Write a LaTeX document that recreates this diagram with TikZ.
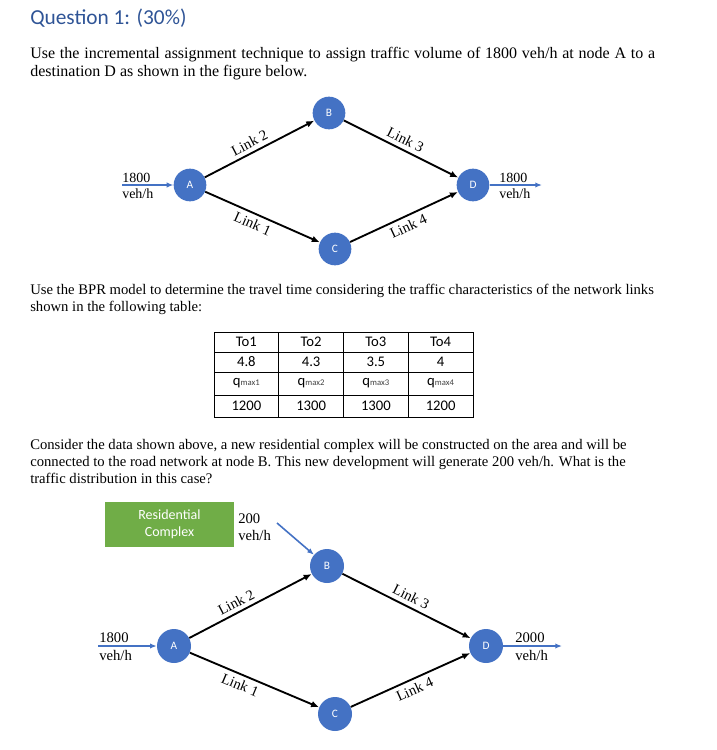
\documentclass[tikz,border=0pt]{standalone}
\usepackage{fontspec}
\setmainfont{Liberation Serif}
\newfontfamily\calibri{Carlito}
\usetikzlibrary{arrows.meta}
\definecolor{nodeblue}{HTML}{4472C4}
\definecolor{headblue}{HTML}{2F5496}
\definecolor{resgreen}{HTML}{70AD47}

\begin{document}
\begin{tikzpicture}[
  x=0.75pt, y=-0.75pt,
  para/.style={anchor=north west, align=left, inner sep=0pt, font=\fontsize{11}{12.7}\selectfont},
  junction/.style={circle, fill=nodeblue, text=white, minimum size=24.5pt, inner sep=0pt, font=\calibri\fontsize{8.5}{10}\selectfont},
  link/.style={-{Latex[length=6pt,width=5pt]}, line width=1.4pt},
  flow/.style={-{Latex[length=5pt,width=4pt]}, line width=1.2pt, nodeblue},
  linklabel/.style={sloped, font=\fontsize{11}{12}\selectfont, inner sep=3pt},
  flowtext/.style={anchor=west, align=left, inner sep=0pt, font=\fontsize{10.5}{12.5}\selectfont},
  cell/.style={draw, line width=0.6pt, minimum width=48.56pt, inner sep=0pt, font=\calibri\fontsize{11}{13}\selectfont}
]
\useasboundingbox (0,0) rectangle (717,750);

% heading and question text
\node[anchor=base west, inner sep=0pt, text=headblue, font=\calibri\fontsize{16}{19}\selectfont] (title) at (30,24) {Question 1: (30\%)};
\node[para, text width=468.75pt, align=justify, font=\fontsize{12}{13.8}\selectfont] (intro) at (30,47) {Use the incremental assignment technique to assign traffic volume of 1800 veh/h at node A to a\linebreak destination D as shown in the figure below.};

% first network
\node[junction] (A) at (190,185) {A};
\node[junction] (B) at (329,113) {B};
\node[junction] (C) at (335,249) {C};
\node[junction] (D) at (473,185) {D};
\draw[link] (A) -- node[linklabel, above, pos=0.45] {Link 2} (B);
\draw[link] (B) -- node[linklabel, above] {Link 3} (D);
\draw[link] (A) -- node[linklabel, below, pos=0.45] {Link 1} (C);
\draw[link] (C) -- node[linklabel, below] {Link 4} (D);
\coordinate (inA) at (122,185);
\coordinate (outD) at (542,185);
\node[flowtext] (inAtext) at (122,186) {1800\\veh/h};
\node[flowtext] (outDtext) at (499,186) {1800\\veh/h};
\draw[flow] (inA) -- (A);
\draw[flow] (D) -- (outD);

\node[para] (bpr) at (30,284) {Use the BPR model to determine the travel time considering the traffic characteristics of the network links\\shown in the following table:};

% link data table
\foreach \t [count=\i] in {To1,To2,To3,To4}
  \node[cell, minimum height=15pt] (to\i) at ({214+64.75*(\i-0.5)},342) {\t};
\foreach \t [count=\i] in {4.8,4.3,3.5,4}
  \node[cell, minimum height=15pt] (tv\i) at ({214+64.75*(\i-0.5)},362) {\t};
\foreach \i in {1,...,4}
  \node[cell, minimum height=17.25pt] (qm\i) at ({214+64.75*(\i-0.5)},383.5) {q{\color{darkgray}\fontsize{6.5}{7}\selectfont max\i}};
\foreach \t [count=\i] in {1200,1300,1300,1200}
  \node[cell, minimum height=16.5pt] (qv\i) at ({214+64.75*(\i-0.5)},406) {\t};

\node[para] (newdev) at (30,439) {Consider the data shown above, a new residential complex will be constructed on the area and will be\\connected to the road network at node B. This new development will generate 200 veh/h. What is the\\traffic distribution in this case?};

% second network with the new development
\node[junction, minimum size=25.5pt] (A2) at (174,646) {A};
\node[junction, minimum size=25.5pt] (B2) at (327,566) {B};
\node[junction, minimum size=25.5pt] (C2) at (335,714) {C};
\node[junction, minimum size=25.5pt] (D2) at (486,646) {D};
\draw[link] (A2) -- node[linklabel, above, pos=0.42] {Link 2} (B2);
\draw[link] (B2) -- node[linklabel, above] {Link 3} (D2);
\draw[link] (A2) -- node[linklabel, below, pos=0.42] {Link 1} (C2);
\draw[link] (C2) -- node[linklabel, below] {Link 4} (D2);
\coordinate (inA2) at (98,646);
\coordinate (outD2) at (562,646);
\node[flowtext, font=\fontsize{11}{13}\selectfont] (inA2text) at (99,646.7) {1800\\veh/h};
\node[flowtext, font=\fontsize{11}{13}\selectfont] (outD2text) at (515,646.7) {2000\\veh/h};
\draw[flow] (inA2) -- (A2);
\draw[flow] (D2) -- (outD2);

\node[fill=resgreen, text=white, align=center, minimum width=96.75pt, minimum height=33.75pt, inner sep=0pt, font=\calibri\fontsize{10.5}{13}\selectfont] (res) at (169.5,524.5) {Residential\\Complex};
\node[flowtext, font=\fontsize{11}{12.5}\selectfont] (restext) at (238,527) {200\\veh/h};
\coordinate (resout) at (277,523);
\draw[flow] (resout) -- (B2);
\end{tikzpicture}
\end{document}
